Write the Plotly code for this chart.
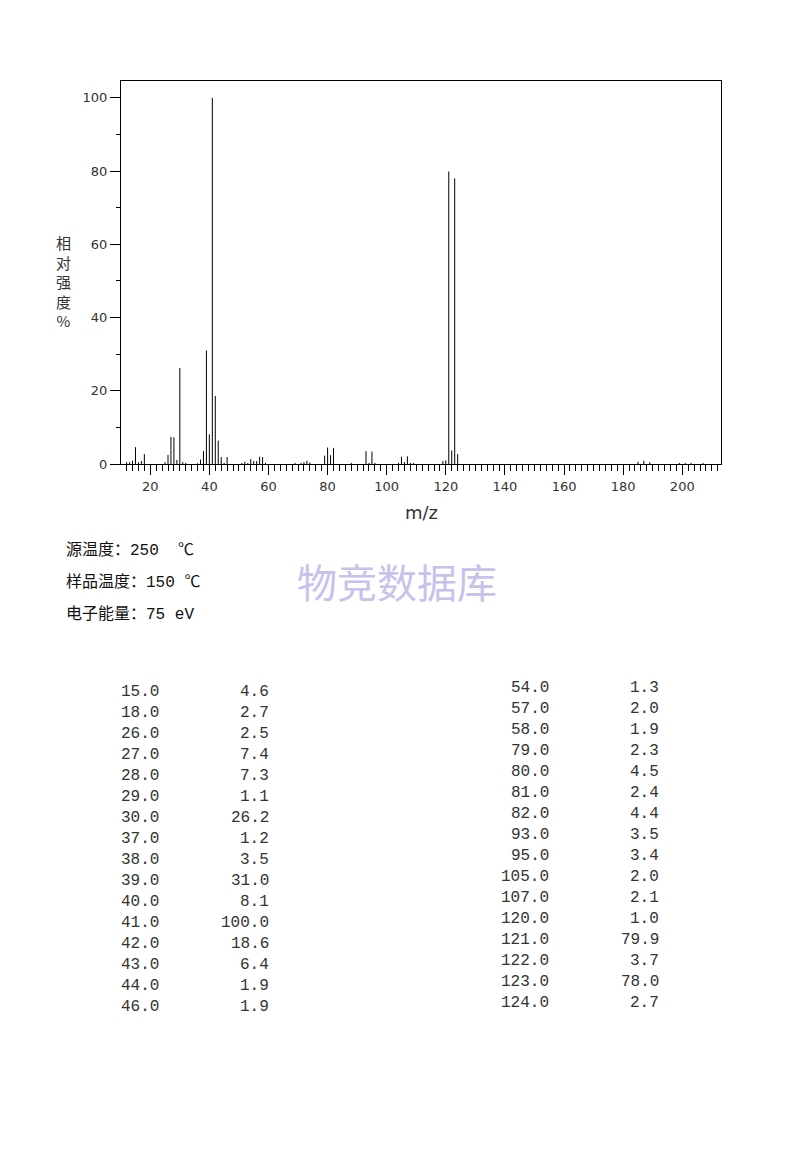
import plotly.graph_objects as go

# ---- spectrum data (m/z, relative intensity %) ----
peak_mz = [12, 13, 14, 15, 16, 17, 18, 25, 26, 27, 28, 29, 30, 31, 32, 36, 37, 38, 39, 40,
           41, 42, 43, 44, 45, 46, 51, 52, 53, 54, 55, 56, 57, 58, 59, 69, 71, 72, 73, 74,
           79, 80, 81, 82, 88, 93, 94, 95, 96, 104, 105, 106, 107, 108, 109, 119, 120, 121,
           122, 123, 124, 185, 187, 189, 199, 201, 203, 207]
peak_int = [0.5, 0.5, 0.9, 4.6, 0.5, 0.8, 2.7, 0.5, 2.5, 7.4, 7.3, 1.1, 26.2, 0.5, 0.3, 0.2,
            1.2, 3.5, 31.0, 8.1, 100.0, 18.6, 6.4, 1.9, 0.3, 1.9, 0.3, 0.6, 0.3, 1.3, 0.8,
            0.8, 2.0, 1.9, 0.3, 0.3, 0.3, 0.5, 0.9, 0.4, 2.3, 4.5, 2.4, 4.4, 0.3, 3.5, 0.3,
            3.4, 0.3, 0.3, 2.0, 0.5, 2.1, 0.3, 0.3, 0.8, 1.0, 79.9, 3.7, 78.0, 2.7, 0.6, 0.9,
            0.5, 0.3, 0.3, 0.3, 0.3]

# ---- peak table ----
left_mz = [15.0, 18.0, 26.0, 27.0, 28.0, 29.0, 30.0, 37.0, 38.0, 39.0, 40.0, 41.0, 42.0, 43.0, 44.0, 46.0]
left_int = [4.6, 2.7, 2.5, 7.4, 7.3, 1.1, 26.2, 1.2, 3.5, 31.0, 8.1, 100.0, 18.6, 6.4, 1.9, 1.9]
right_mz = [54.0, 57.0, 58.0, 79.0, 80.0, 81.0, 82.0, 93.0, 95.0, 105.0, 107.0, 120.0, 121.0, 122.0, 123.0, 124.0]
right_int = [1.3, 2.0, 1.9, 2.3, 4.5, 2.4, 4.4, 3.5, 3.4, 2.0, 2.1, 1.0, 79.9, 3.7, 78.0, 2.7]

info_lines = ["源温度：250  ℃", "样品温度：150 ℃", "电子能量：75 eV"]
watermark = "物竞数据库"

OFF = 8  # page body margin
W, H = 794, 1162
# plot area in page pixels: x 121..721, y 81..464
L = 121 - OFF
T = 81 - OFF
PW, PH = 600, 383
R = W - L - PW
B = H - T - PH


def px(x):
    return (x - OFF - L) / PW


def py(y):
    return (T + PH - (y - OFF)) / PH


xs, ys = [], []
for m, v in zip(peak_mz, peak_int):
    xs += [m, m, None]
    ys += [0, v, None]

fig = go.Figure()
fig.add_trace(go.Scatter(x=xs, y=ys, mode="lines", line=dict(color="black", width=1),
                         hoverinfo="skip", showlegend=False))

tickfont = dict(family="DejaVu Sans", size=13, color="#333")
fig.update_layout(
    width=W, height=H, margin=dict(l=L, r=R, t=T, b=B, pad=0),
    paper_bgcolor="white", plot_bgcolor="white", showlegend=False,
    xaxis=dict(range=[10.1, 213.1], showgrid=False, zeroline=False,
               showline=True, linecolor="black", linewidth=1, mirror=True,
               tickmode="array", tickvals=list(range(20, 201, 20)),
               ticks="outside", ticklen=10, tickcolor="black", tickwidth=1,
               tickfont=tickfont,
               minor=dict(dtick=2, tick0=0, ticks="outside", ticklen=6,
                          tickcolor="black", tickwidth=1, showgrid=False)),
    yaxis=dict(range=[0, 104.6], showgrid=False, zeroline=False,
               showline=True, linecolor="black", linewidth=1, mirror=True,
               tickmode="array", tickvals=[0, 20, 40, 60, 80, 100],
               ticks="outside", ticklen=10, tickcolor="black", tickwidth=1,
               tickfont=tickfont,
               minor=dict(dtick=10, tick0=0, ticks="outside", ticklen=4,
                          tickcolor="black", tickwidth=1, showgrid=False)),
)

ann = []


def add(text, x, y, font, xanchor="center"):
    ann.append(dict(text=text, x=px(x), y=py(y), xref="paper", yref="paper",
                    xanchor=xanchor, yanchor="middle", showarrow=False, font=font))


# axis titles
add("m/z", 421, 512, dict(family="DejaVu Sans", size=18, color="#333"))
add("相<br>对<br>强<br>度<br>%", 63, 281, dict(family="Noto Sans CJK SC", size=15, color="#333"))
# info lines
for i, t in enumerate(info_lines):
    add(t, 64, 550 + i * 32, dict(family="Liberation Mono, Noto Sans CJK SC", size=16, color="#111"), "left")
# watermark
add(watermark, 397, 581, dict(family="Noto Sans CJK SC", size=40, color="rgb(197,195,236)"))
# table
mono = dict(family="Liberation Mono", size=16, color="#333")
for i, (m, v) in enumerate(zip(left_mz, left_int)):
    add(f"{m:.1f}", 161, 692 + i * 21, mono, "right")
    add(f"{v:.1f}", 271, 692 + i * 21, mono, "right")
for i, (m, v) in enumerate(zip(right_mz, right_int)):
    add(f"{m:.1f}", 551, 688 + i * 21, mono, "right")
    add(f"{v:.1f}", 661, 688 + i * 21, mono, "right")
fig.update_layout(annotations=ann)

fig.write_html("out.html")
